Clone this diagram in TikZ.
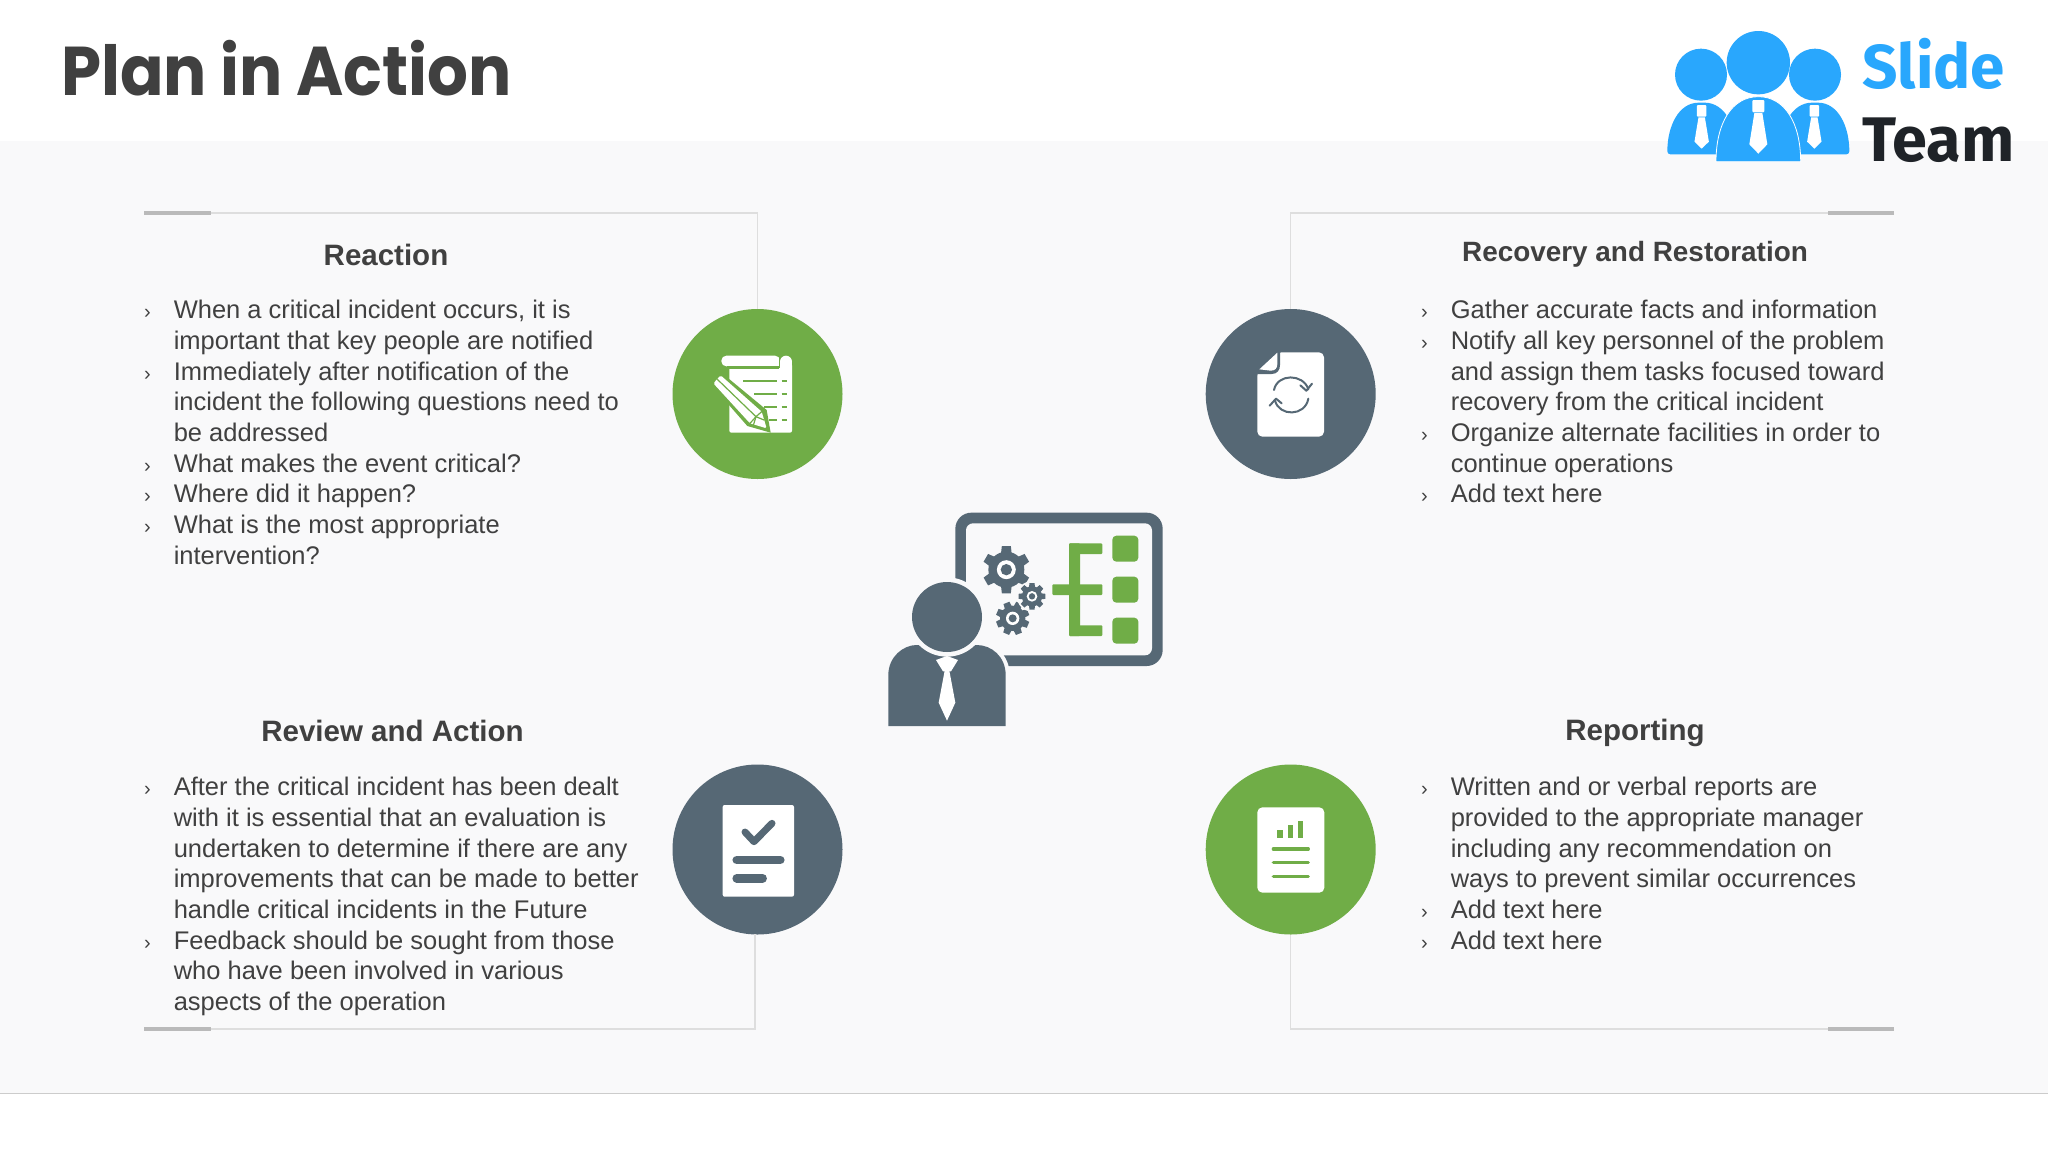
\documentclass[tikz,border=0pt]{standalone}
\usepackage{fontspec}
\setmainfont{Liberation Sans}
\newfontfamily\titlefont[FakeStretch=0.93]{Poppins}
\newfontfamily\logofont{Fira Sans}
\definecolor{pagebg}{HTML}{F9F9FA}
\definecolor{leaf}{HTML}{70AD47}
\definecolor{slate}{HTML}{566875}
\definecolor{inkc}{HTML}{404040}
\definecolor{logoblue}{HTML}{29A7FD}
\definecolor{logoink}{HTML}{1F2328}
\tikzset{
  bodytext/.style={anchor=north west,inner sep=0pt,align=left,text=inkc,font=\fontsize{25.5}{30.7}\selectfont},
  headtext/.style={anchor=center,inner sep=0pt,text=inkc,font=\fontsize{29.5}{34}\selectfont\bfseries},
  badge/.style={circle,minimum size=170pt,inner sep=0pt},
  panel/.style={draw=black!13,line width=1.1pt},
  accent/.style={draw=black!27,line width=4pt},
}
\newcommand{\bul}{\makebox[29.6pt][l]{\fontsize{20}{20}\selectfont ›}}
\newcommand{\cont}{\hspace*{29.6pt}}
\newcommand{\gearicon}[5]{%
  \begin{scope}[shift={(#1,#2)}]
    \fill[pagebg] (0,0) circle ({#3*1.14});
    \foreach \k in {1,...,#4}{
      \fill[slate,rotate={\k*360/#4+#5}] ({-#3*.30},0) -- ({-#3*.19},{-#3}) -- ({#3*.19},{-#3}) -- ({#3*.30},0) -- cycle;
    }
    \fill[slate] (0,0) circle ({#3*.76});
    \fill[white] (0,0) circle ({#3*.40});
    \fill[slate] (0,0) circle ({#3*.24});
  \end{scope}}
\begin{document}
\begin{tikzpicture}[x=1pt,y=-1pt]
\useasboundingbox (0,0) rectangle (2048,1152);
\fill[white] (0,0) rectangle (2048,1152);
\fill[pagebg] (0,141) rectangle (2048,1093);
\draw[draw=black!20,line width=1.2pt] (0,1093.5) -- (2048,1093.5);

\node[anchor=base west,inner sep=0pt,text=inkc] (title) at (61,95) {\titlefont\fontsize{69}{80}\selectfont\bfseries Plan in Action};

% badges
\node[badge,fill=leaf]  (c1) at (757.5,394) {};
\node[badge,fill=slate] (c2) at (1290.7,394) {};
\node[badge,fill=slate] (c3) at (757.5,849.5) {};
\node[badge,fill=leaf]  (c4) at (1290.7,849.5) {};

% panel rules
\coordinate (a1) at (144,213); \coordinate (a1e) at (211,213); \coordinate (k1) at (757.5,213);
\coordinate (a2) at (1894,213); \coordinate (a2e) at (1828,213); \coordinate (k2) at (1290.7,213);
\coordinate (a3) at (144,1029); \coordinate (a3e) at (211,1029); \coordinate (k3) at (755,1029);
\coordinate (a4) at (1894,1029); \coordinate (a4e) at (1828,1029); \coordinate (k4) at (1290.7,1029);
\draw[panel] (a1) -- (k1) -- (c1.north);
\draw[panel] (a2) -- (k2) -- (c2.north);
\draw[panel] (a3) -- (k3) -- (755,934);
\draw[panel] (a4) -- (k4) -- (c4.south);
\draw[accent] (a1) -- (a1e);
\draw[accent] (a2) -- (a2e);
\draw[accent] (a3) -- (a3e);
\draw[accent] (a4) -- (a4e);

% headings
\node[headtext] (h1) at (386,255) {Reaction};
\node[headtext,font=\fontsize{27.9}{34}\selectfont\bfseries] (h2) at (1635,254) {Recovery and Restoration};
\node[headtext] (h3) at (392.5,731) {Review and Action};
\node[headtext] (h4) at (1635,733) {Reporting};

% body text
\node[bodytext] (t1) at (144,300) {\bul When a critical incident occurs, it is\\
\cont important that key people are notified\\
\bul Immediately after notification of the\\
\cont incident the following questions need to\\
\cont be addressed\\
\bul What makes the event critical?\\
\bul Where did it happen?\\
\bul What is the most appropriate\\
\cont intervention?};
\node[bodytext] (t2) at (1421,300) {\bul Gather accurate facts and information\\
\bul Notify all key personnel of the problem\\
\cont and assign them tasks focused toward\\
\cont recovery from the critical incident\\
\bul Organize alternate facilities in order to\\
\cont continue operations\\
\bul Add text here};
\node[bodytext] (t3) at (144,777) {\bul After the critical incident has been dealt\\
\cont with it is essential that an evaluation is\\
\cont undertaken to determine if there are any\\
\cont improvements that can be made to better\\
\cont handle critical incidents in the Future\\
\bul Feedback should be sought from those\\
\cont who have been involved in various\\
\cont aspects of the operation};
\node[bodytext] (t4) at (1421,777) {\bul Written and or verbal reports are\\
\cont provided to the appropriate manager\\
\cont including any recommendation on\\
\cont ways to prevent similar occurrences\\
\bul Add text here\\
\bul Add text here};

% icon 1: notes and pencil
\begin{scope}[shift={(660,300)},scale=1/3]
  \fill[white,rounded corners=2pt] (208,190) rectangle (396,398);
  \fill[white,rounded corners=5pt] (184,167) rectangle (360,199);
  \fill[white] (360,185) rectangle (396,230);
  \fill[white] (378,185) circle (18);
  \fill[leaf] (200,199) rectangle (358,207);
  \draw[leaf,line width=1.2pt] (358,172) -- (358,205);
  \foreach \y/\x in {244/250,283/282,322/312,361/328}{
    \draw[leaf,line width=1.7pt] (\x,\y) -- (352,\y);
    \draw[leaf,line width=1.7pt] (365,\y) -- (380,\y);
  }
  \fill[leaf] (150,250) -- (182,216) -- (320,330) -- (332,398) -- (262,378) -- cycle;
  \fill[white,rounded corners=1.5pt] (160,250) -- (182,226) -- (305,335) -- (320,385) -- (270,370) -- cycle;
  \draw[leaf,line width=1.2pt] (172,238) -- (288,350);
  \draw[leaf,line width=1.2pt] (270,370) -- (288,350) -- (305,335);
  \draw[leaf,line width=1.2pt] (280,376) -- (288,350) -- (312,360);
\end{scope}

% icon 2: document with refresh
\begin{scope}[shift={(1200,300)},scale=1/3]
  \fill[white,rounded corners=5pt] (232,157) -- (372,157) -- (372,410) -- (172,410) -- (172,215) -- cycle;
  \fill[slate] (225,150) -- (172,205) -- (172,222) -- (215,222) .. controls (232,222) and (240,210) .. (240,195) -- (240,150) -- cycle;
  \fill[white] (178,208) -- (232,158) -- (232,192) .. controls (232,205) and (225,212) .. (212,212) -- cycle;
  \draw[slate,line width=2pt,line cap=round,line join=round] (222,270) .. controls (232,220) and (310,220) .. (325,268);
  \draw[slate,line width=2pt,line cap=round,line join=round] (301,256) -- (319,272) -- (336,251);
  \draw[slate,line width=2pt,line cap=round,line join=round] (325,296) .. controls (315,350) and (238,350) .. (225,302);
  \draw[slate,line width=2pt,line cap=round,line join=round] (209,317) -- (228,296) -- (245,310);
\end{scope}

% icon 3: checklist
\begin{scope}[shift={(660,760)},scale=1/3]
  \fill[white,rounded corners=2pt] (188,135) rectangle (402,410);
  \draw[slate,line width=7pt,line cap=round,line join=round] (255,216) -- (282,245) -- (336,190);
  \draw[slate,line width=8.5pt,line cap=round] (230,300) -- (361,300);
  \draw[slate,line width=8.5pt,line cap=round] (230,355) -- (308,355);
\end{scope}

% icon 4: report
\begin{scope}[shift={(1200,760)},scale=1/3]
  \fill[white,rounded corners=5pt] (172,142) rectangle (373,398);
  \fill[leaf] (232,210) rectangle (248,234);
  \fill[leaf] (263,196) rectangle (279,234);
  \fill[leaf] (293,182) rectangle (309,234);
  \foreach \y in {267,308,349}{
    \draw[leaf,line width=3.3pt,line cap=round] (220,\y) -- (325,\y);
  }
\end{scope}

% centre icon
\begin{scope}[shift={(870,500)},scale=1/3]
  \fill[slate,rounded corners=16pt] (256,38) rectangle (878,498);
  \fill[pagebg,rounded corners=7pt] (288,70) rectangle (846,466);
  \fill[leaf,rounded corners=1pt] (597,130) rectangle (630,408);
  \fill[leaf,rounded corners=1pt] (597,130) rectangle (697,162);
  \fill[leaf,rounded corners=1pt] (597,376) rectangle (697,408);
  \fill[leaf,rounded corners=1pt] (547,253) rectangle (697,285);
  \foreach \y in {107,230,353}{
    \fill[leaf,rounded corners=4pt] (727,\y) rectangle (805,\y+78);
  }
  \gearicon{409}{209}{71}{6}{0}
  \gearicon{428}{355}{50}{8}{22}
  \gearicon{486}{289}{40}{8}{0}
  \fill[pagebg] (44,690) -- (44,525) .. controls (44,465) and (95,423) .. (140,423) -- (320,423) .. controls (372,423) and (419,465) .. (419,525) -- (419,690) -- cycle;
  \fill[slate] (55,678) -- (55,525) .. controls (55,470) and (100,435) .. (140,435) -- (320,435) .. controls (365,435) and (407,470) .. (407,525) -- (407,678) -- cycle;
  \fill[pagebg] (231,351) circle (119);
  \fill[slate] (231,351) circle (105);
  \fill[white] (198,480) -- (231,468) -- (264,480) -- (243,514) -- (219,514) -- cycle;
  \fill[white] (224,512) -- (238,512) -- (256,608) -- (231,662) -- (206,608) -- cycle;
\end{scope}

% logo
\begin{scope}[shift={(1650,20)},scale=1/3]
  \fill[logoblue] (153,164) circle (78);
  \fill[logoblue] (495,164) circle (78);
  \fill[logoblue] (325,128) circle (95);
  \fill[logoblue,rounded corners=3pt] (52,403) .. controls (52,320) and (85,248) .. (155,248) .. controls (225,248) and (260,320) .. (260,403) -- cycle;
  \fill[logoblue,rounded corners=3pt] (390,403) .. controls (390,320) and (425,248) .. (495,248) .. controls (565,248) and (598,320) .. (598,403) -- cycle;
  \fill[logoblue,draw=white,line width=.8pt] (198,425) .. controls (198,310) and (245,230) .. (325,230) .. controls (405,230) and (452,310) .. (452,425) -- cycle;
  \foreach \cx/\s in {155/.8,493/.8,325/1}{
    \begin{scope}[shift={(\cx,0)}]
      \fill[white,rounded corners=1pt] ({-18*\s},{255-(\s-.8)*75}) rectangle ({18*\s},{290-(\s-.8)*65});
      \fill[white] ({-12*\s},{292-(\s-.8)*65}) -- ({12*\s},{292-(\s-.8)*65}) -- ({27*\s},{365+(\s-.8)*40}) -- (0,{386+(\s-.8)*75}) -- ({-27*\s},{365+(\s-.8)*40}) -- cycle;
    \end{scope}
  }
\end{scope}
\node[anchor=base west,inner sep=0pt,text=logoblue] (slide) at (1862,88) {\logofont\fontsize{62}{70}\selectfont\bfseries Slide};
\node[anchor=base west,inner sep=0pt,text=logoink] (team) at (1862,161) {\logofont\fontsize{63}{70}\selectfont\bfseries Team};
\end{tikzpicture}
\end{document}
